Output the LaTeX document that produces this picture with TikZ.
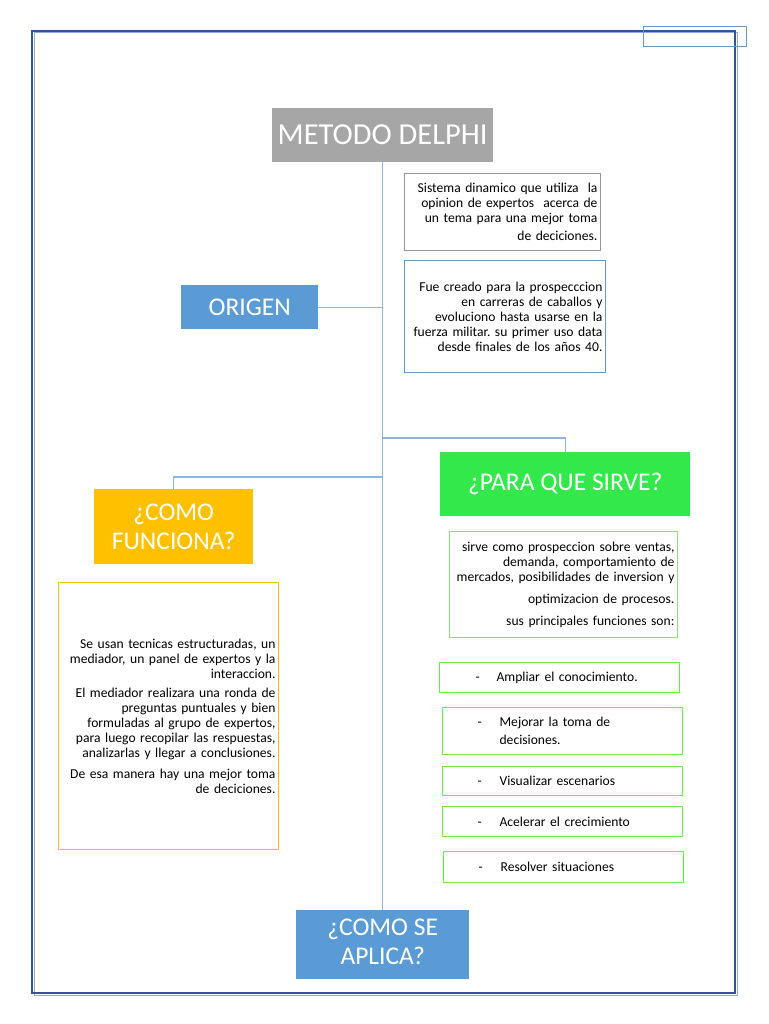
\documentclass[tikz,border=0pt]{standalone}
\usepackage{fontspec}
\setmainfont{Carlito}
\usepackage{xcolor}
\frenchspacing

\definecolor{frameblue}{RGB}{47,85,151}
\definecolor{framelight}{RGB}{143,170,220}
\definecolor{boxblue}{RGB}{91,155,213}
\definecolor{linkblue}{RGB}{141,180,226}
\definecolor{titlegray}{RGB}{166,166,166}
\definecolor{boxgreen}{RGB}{51,232,74}
\definecolor{edgegreen}{RGB}{102,240,60}
\definecolor{boxamber}{RGB}{255,192,0}
\definecolor{edgegray}{RGB}{150,150,150}

\tikzset{
  head/.style={fill=#1, text=white, anchor=north west, inner sep=0pt, align=center,
    font=\fontsize{25.5}{29}\selectfont},
  note/.style={draw=#1, line width=1pt, anchor=north west, inner xsep=3pt, inner ysep=0pt,
    align=right, font=\fontsize{13.6}{15}\selectfont},
  item/.style={draw=edgegreen, line width=1.2pt, anchor=north west, inner xsep=35pt,
    inner ysep=0pt, text width=170pt, align=left, font=\fontsize{13.6}{15}\selectfont},
  link/.style={draw=linkblue, line width=1.2pt}
}

\begin{document}
\begin{tikzpicture}[x=1pt, y=-1pt]
  \useasboundingbox (0,0) rectangle (768,1024);

  % Page frame
  \draw[framelight, line width=1pt] (34,33) rectangle (737,995);
  \draw[frameblue, line width=1.2pt] (32,31) rectangle (735,993);
  \draw[boxblue, line width=1pt] (643,27) rectangle (746,47);

  % Title and headings
  \node[head=titlegray, minimum width=221pt, minimum height=54pt,
    font=\fontsize{30.5}{35}\selectfont] (title) at (272,108) {METODO DELPHI};
  \node[head=boxblue, minimum width=137pt, minimum height=44pt] (origen) at (181,285) {ORIGEN};
  \node[head=boxgreen, minimum width=250pt, minimum height=64pt] (para) at (440,452) {¿PARA QUE SIRVE?};
  \node[head=boxamber, minimum width=159pt, minimum height=75pt] (funciona) at (94,489) {¿COMO\\FUNCIONA?};
  \node[head=boxblue, minimum width=173pt, minimum height=69pt, text depth=6pt] (aplica) at (296,910) {¿COMO SE\\APLICA?};

  % Text boxes
  \node[note=edgegray, text width=190pt, minimum height=77pt] (sistema) at (404,173)
    {Sistema dinamico que utiliza\ \ la\\opinion de expertos\ \ acerca de\\un tema para una mejor toma\\[3pt]de deciciones{\Large.}};
  \node[note=boxblue, text width=195pt, minimum height=112pt] (creado) at (404,260)
    {Fue creado para la prospecccion\\en carreras de caballos y\\evoluciono hasta usarse en la\\fuerza militar. su primer uso data\\desde finales de los años 40.\\[6pt]};
  \node[note=boxamber, text width=214pt, minimum height=267pt] (usan) at (58,582)
    {Se usan tecnicas estructuradas, un\\mediador, un panel de expertos y la\\interaccion.\\[4pt]El mediador realizara una ronda de\\preguntas puntuales y bien\\formuladas al grupo de expertos,\\para luego recopilar las respuestas,\\analizarlas y llegar a conclusiones.\\[6pt]De esa manera hay una mejor toma\\de deciciones.};
  \node[note=edgegreen!80!black!60, text width=222pt, minimum height=106pt] (sirve) at (449,531)
    {sirve como prospeccion sobre ventas,\\demanda, comportamiento de\\mercados, posibilidades de inversion y\\[7pt]optimizacion de procesos{\Large.}\\[7pt]sus principales funciones son:};

  % List of functions
  \node[item, minimum width=240pt, minimum height=30pt, inner xsep=36pt, text width=168pt] (f1) at (439,662)
    {\makebox[21pt][l]{-}Ampliar el conocimiento.};
  \node[item, minimum width=240pt, minimum height=47pt] (f2) at (442,707)
    {\makebox[22pt][l]{-}Mejorar la toma de\\[3pt]\hspace*{22pt}decisiones.};
  \node[item, minimum width=240pt, minimum height=29pt] (f3) at (442,766)
    {\makebox[22pt][l]{-}Visualizar escenarios};
  \node[item, minimum width=240pt, minimum height=30pt] (f4) at (442,806)
    {\makebox[22pt][l]{-}Acelerar el crecimiento};
  \node[item, minimum width=240pt, minimum height=31pt] (f5) at (443,851)
    {\makebox[22pt][l]{-}Resolver situaciones};

  % Connectors
  \coordinate (forkR) at (382.5,438);
  \coordinate (forkL) at (382.5,477);
  \draw[link] (title.south) -- (aplica.north);
  \draw[link] (origen.east) -- (origen.east -| title.south);
  \draw[link] (forkR) -| (para.north);
  \draw[link] (forkL) -| (funciona.north);
\end{tikzpicture}
\end{document}
